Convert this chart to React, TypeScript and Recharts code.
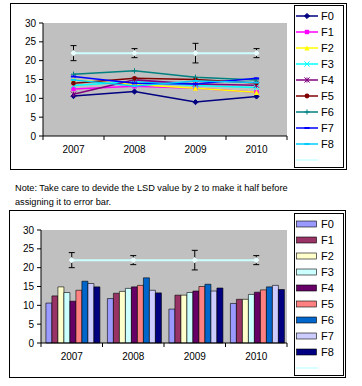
import React from "react";
import {
  LineChart,
  ComposedChart,
  Line,
  Bar,
  XAxis,
  YAxis,
  CartesianGrid,
  ErrorBar,
} from "recharts";

const years = ["2007", "2008", "2009", "2010"];
const seriesNames = ["F0", "F1", "F2", "F3", "F4", "F5", "F6", "F7", "F8"];

const f0 = [10.6, 11.8, 9.0, 10.5];
const f1 = [12.5, 13.2, 12.7, 11.6];
const f2 = [14.9, 13.7, 12.7, 11.6];
const f3 = [13.4, 14.5, 13.4, 12.9];
const f4 = [11.1, 14.9, 13.8, 13.5];
const f5 = [14.0, 15.3, 15.0, 14.1];
const f6 = [16.4, 17.3, 15.6, 14.9];
const f7 = [15.8, 14.0, 13.8, 15.3];
const f8 = [14.9, 13.3, 14.6, 14.2];
const lsd = [22, 22, 22, 22];
const lsdErr = [2.0, 1.2, 2.6, 1.2];

const yTicks = [0, 5, 10, 15, 20, 25, 30];

const lineColors = ["#000080", "#FF00FF", "#FFFF00", "#00FFFF", "#800080", "#800000", "#008080", "#0000FF", "#00CCFF"];
const markers = ["diamond", "square", "triangle", "x", "star", "circle", "plus", "dash", "dash"];
const barColors = ["#9999FF", "#993366", "#FFFFCC", "#CCFFFF", "#660066", "#FF8080", "#0066CC", "#CCCCFF", "#000080"];
const lsdColor = "#CCFFFF";

const allSeries = [f0, f1, f2, f3, f4, f5, f6, f7, f8];
const data = years.map((y, i) => {
  const row: any = { year: y, lsd: lsd[i], err: lsdErr[i] };
  seriesNames.forEach((n, k) => (row[n] = allSeries[k][i]));
  return row;
});

const font = "Arial, 'Liberation Sans', sans-serif";

function marker(shape: string, cx: number, cy: number, color: string, key?: any) {
  const s = 2.6;
  switch (shape) {
    case "diamond":
      return <polygon key={key} points={`${cx},${cy - s} ${cx + s},${cy} ${cx},${cy + s} ${cx - s},${cy}`} fill={color} stroke={color} />;
    case "square":
      return <rect key={key} x={cx - 2.2} y={cy - 2.2} width={4.4} height={4.4} fill={color} />;
    case "triangle":
      return <polygon key={key} points={`${cx},${cy - s} ${cx + s},${cy + s} ${cx - s},${cy + s}`} fill={color} />;
    case "x":
      return (
        <g key={key} stroke={color} strokeWidth={1}>
          <line x1={cx - s} y1={cy - s} x2={cx + s} y2={cy + s} />
          <line x1={cx - s} y1={cy + s} x2={cx + s} y2={cy - s} />
        </g>
      );
    case "star":
      return (
        <g key={key} stroke={color} strokeWidth={1}>
          <line x1={cx - s} y1={cy - s} x2={cx + s} y2={cy + s} />
          <line x1={cx - s} y1={cy + s} x2={cx + s} y2={cy - s} />
          <line x1={cx} y1={cy - s} x2={cx} y2={cy + s} />
        </g>
      );
    case "circle":
      return <circle key={key} cx={cx} cy={cy} r={2.4} fill={color} />;
    case "plus":
      return (
        <g key={key} stroke={color} strokeWidth={1}>
          <line x1={cx - s} y1={cy} x2={cx + s} y2={cy} />
          <line x1={cx} y1={cy - s} x2={cx} y2={cy + s} />
        </g>
      );
    default:
      return <line key={key} x1={cx - s} y1={cy} x2={cx + s} y2={cy} stroke={color} strokeWidth={2} />;
  }
}

const dotFor = (shape: string, color: string) => (p: any) => marker(shape, p.cx, p.cy, color, p.index);

// labels centred under each year, tick marks on the category borders like Excel
const YearTick = (p: any) => {
  const off = p.payload.offset || 0;
  const last = p.index === years.length - 1;
  return (
    <g>
      <line x1={p.x - off} y1={p.y} x2={p.x - off} y2={p.y + 4} stroke="#000" />
      {last && <line x1={p.x + off} y1={p.y} x2={p.x + off} y2={p.y + 4} stroke="#000" />}
      <text x={p.x} y={p.y + 17} textAnchor="middle" fontSize={10} fontFamily={font} fill="#000">
        {p.payload.value}
      </text>
    </g>
  );
};

const yAxisProps = {
  domain: [0, 30] as [number, number],
  ticks: yTicks,
  width: 30,
  tickSize: 4,
  tickMargin: 3,
  interval: 0 as const,
  axisLine: { stroke: "#000" },
  tickLine: { stroke: "#000" },
  tick: { fontSize: 10, fontFamily: font, fill: "#000" },
};

function LineLegend() {
  return (
    <div style={{ position: "absolute", left: 294, top: 5, width: 48, height: 161, border: "1px solid #000", background: "#fff" }}>
      {seriesNames.map((n, i) => (
        <div key={n} style={{ position: "absolute", left: 1, top: 3 + i * 16, height: 14, display: "flex", alignItems: "center" }}>
          <svg width={22} height={10}>
            <line x1={0} y1={5} x2={22} y2={5} stroke={lineColors[i]} strokeWidth={1.5} />
            {marker(markers[i], 11, 5, lineColors[i])}
          </svg>
          <span style={{ fontFamily: font, fontSize: 11, marginLeft: 3 }}>{n}</span>
        </div>
      ))}
      <div style={{ position: "absolute", left: 1, top: 3 + 9 * 16, height: 14, display: "flex", alignItems: "center" }}>
        <svg width={22} height={10}>
          <line x1={0} y1={5} x2={22} y2={5} stroke={lsdColor} strokeWidth={1.5} />
        </svg>
      </div>
    </div>
  );
}

function BarLegend() {
  return (
    <div style={{ position: "absolute", left: 294, top: 213, width: 48, height: 161, border: "1px solid #000", background: "#fff" }}>
      {seriesNames.map((n, i) => (
        <div key={n} style={{ position: "absolute", left: 1, top: 3 + i * 16, height: 14, display: "flex", alignItems: "center" }}>
          <svg width={22} height={10}>
            <rect x={0.5} y={2} width={20} height={6} fill={barColors[i]} stroke="#000" strokeWidth={0.6} />
          </svg>
          <span style={{ fontFamily: font, fontSize: 11, marginLeft: 3 }}>{n}</span>
        </div>
      ))}
      <div style={{ position: "absolute", left: 1, top: 3 + 9 * 16, height: 14, display: "flex", alignItems: "center" }}>
        <svg width={22} height={10}>
          <line x1={0} y1={5} x2={22} y2={5} stroke={lsdColor} strokeWidth={1.5} />
        </svg>
      </div>
    </div>
  );
}

export default function App() {
  return (
    <div style={{ position: "absolute", left: 0, top: 0, width: 362, height: 386, background: "#fff", fontFamily: font }}>
      {/* top chart: line version */}
      <div style={{ position: "absolute", left: 10, top: 3, width: 335, height: 165, border: "1px solid #000" }} />
      <div style={{ position: "absolute", left: 0, top: 0 }}>
        <LineChart width={295} height={170} data={data} margin={{ top: 23, right: 8, left: 13, bottom: 0 }}>
          <CartesianGrid fill="#C0C0C0" horizontal={false} vertical={false} />
          <XAxis dataKey="year" scale="band" height={34} tickSize={0} tickMargin={0} axisLine={{ stroke: "#000" }} tickLine={false} tick={<YearTick />} interval={0} />
          <YAxis {...yAxisProps} />
          {seriesNames.map((n, i) => (
            <Line
              key={n}
              dataKey={n}
              stroke={lineColors[i]}
              strokeWidth={1.5}
              dot={dotFor(markers[i], lineColors[i])}
              activeDot={false}
              isAnimationActive={false}
            />
          ))}
          <Line dataKey="lsd" stroke={lsdColor} strokeWidth={2} dot={dotFor("diamond", "#E8FFFF")} activeDot={false} isAnimationActive={false}>
            <ErrorBar dataKey="err" width={3} stroke="#000" strokeWidth={1} direction="y" />
          </Line>
        </LineChart>
      </div>
      <LineLegend />

      <div style={{ position: "absolute", left: 15, top: 181, fontSize: 9.2, lineHeight: "14px", color: "#000", whiteSpace: "nowrap" }}>
        Note: Take care to devide the LSD value by 2 to make it half before
        <br />
        assigning it to error bar.
      </div>

      {/* bottom chart: bar version */}
      <div style={{ position: "absolute", left: 9, top: 210, width: 335, height: 166, border: "1px solid #000" }} />
      <div style={{ position: "absolute", left: 0, top: 200 }}>
        <ComposedChart width={295} height={180} data={data} margin={{ top: 30, right: 8, left: 11, bottom: 0 }} barCategoryGap="8%" barGap={0}>
          <CartesianGrid fill="#C0C0C0" horizontal={false} vertical={false} />
          <XAxis dataKey="year" height={37} tickSize={0} tickMargin={0} axisLine={{ stroke: "#000" }} tickLine={false} tick={<YearTick />} interval={0} />
          <YAxis {...yAxisProps} />
          {seriesNames.map((n, i) => (
            <Bar key={n} dataKey={n} fill={barColors[i]} stroke="#000" strokeWidth={0.6} isAnimationActive={false} />
          ))}
          <Line dataKey="lsd" stroke={lsdColor} strokeWidth={2} dot={dotFor("diamond", "#E8FFFF")} activeDot={false} isAnimationActive={false}>
            <ErrorBar dataKey="err" width={3} stroke="#000" strokeWidth={1} direction="y" />
          </Line>
        </ComposedChart>
      </div>
      <BarLegend />
    </div>
  );
}
